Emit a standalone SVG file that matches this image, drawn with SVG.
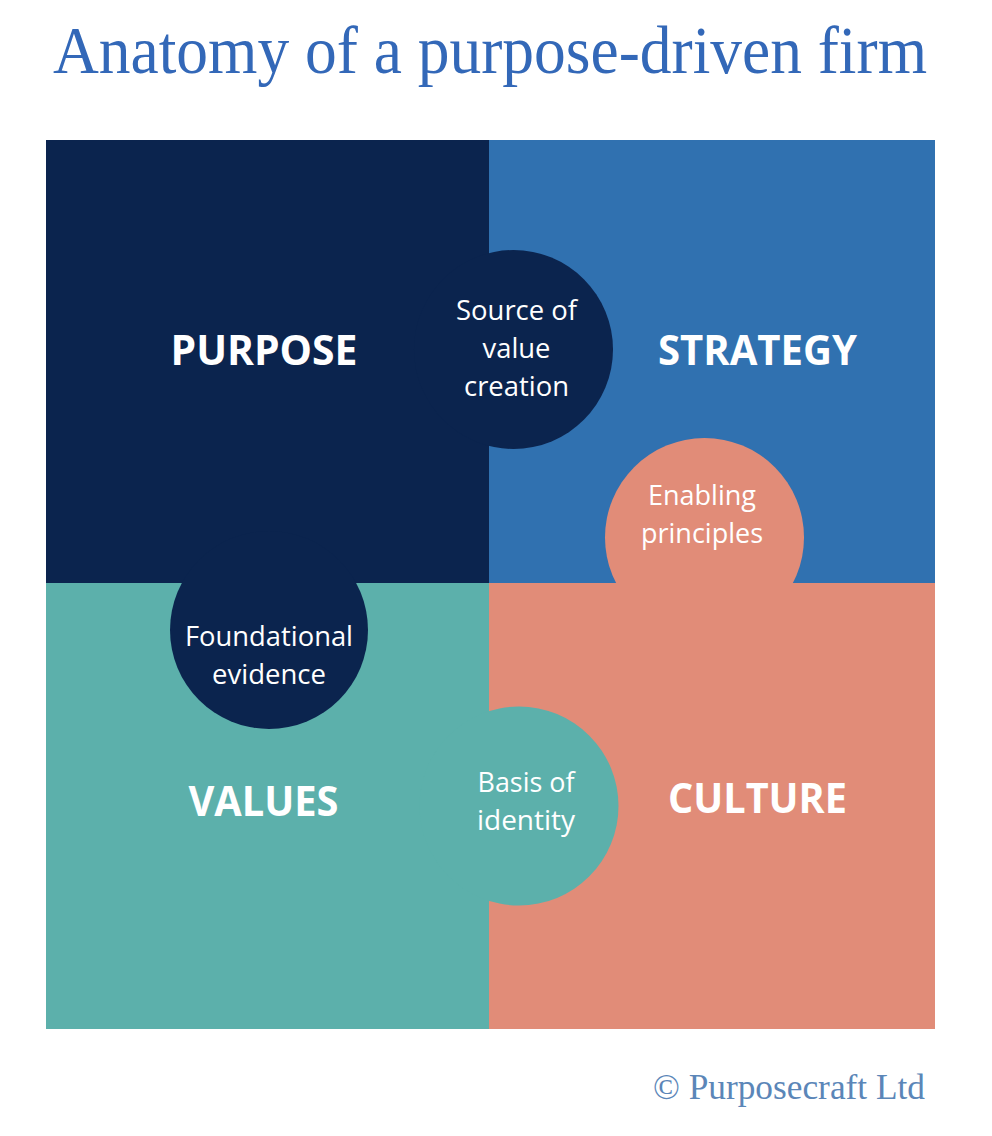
<svg xmlns="http://www.w3.org/2000/svg" width="992" height="1136" viewBox="0 0 992 1136">
<style>
.h{font-family:"Open Sans","Noto Sans",sans-serif;font-weight:700;font-size:42px;fill:#fff;text-anchor:middle}
.l{font-family:"Open Sans","Noto Sans",sans-serif;font-size:27.500px;fill:#fff;text-anchor:middle}
.s{font-family:"Liberation Serif",serif}
</style>
<rect width="992" height="1136" fill="#fff"/>
<text id="title" class="s" x="53" y="73" font-size="68" fill="#3368b8" textLength="874" lengthAdjust="spacingAndGlyphs">Anatomy of a purpose-driven firm</text>
<g id="strategy"><rect x="489" y="140" width="446" height="443" fill="#3071b0"/><text class="h" x="757.500" y="365" textLength="199" lengthAdjust="spacingAndGlyphs">STRATEGY</text></g>
<g id="enabling"><circle cx="704.500" cy="537.500" r="99.500" fill="#e18c78"/></g>
<g id="culture"><rect x="489" y="583" width="446" height="446" fill="#e18c78"/><text class="h" x="757.500" y="813" textLength="179" lengthAdjust="spacingAndGlyphs">CULTURE</text></g>
<g id="purpose"><rect x="46" y="140" width="443" height="443" fill="#0b244e"/><text class="h" x="264" y="365" textLength="187" lengthAdjust="spacingAndGlyphs">PURPOSE</text></g>
<g id="source"><circle cx="513.500" cy="349.500" r="99.500" fill="#0b244e"/></g>
<g id="values"><rect x="46" y="583" width="443" height="446" fill="#5cb0ab"/><text class="h" x="263.500" y="816" textLength="150" lengthAdjust="spacingAndGlyphs">VALUES</text></g>
<g id="foundational"><circle cx="269" cy="630" r="99" fill="#0b244e"/></g>
<g id="basis"><circle cx="519" cy="806" r="99.500" fill="#5cb0ab"/></g>
<g id="labels">
<text class="l" x="516.500" y="320" textLength="121" lengthAdjust="spacingAndGlyphs">Source of</text>
<text class="l" x="516.500" y="358" textLength="68" lengthAdjust="spacingAndGlyphs">value</text>
<text class="l" x="516.500" y="396" textLength="105" lengthAdjust="spacingAndGlyphs">creation</text>
<text class="l" x="702" y="505" textLength="108" lengthAdjust="spacingAndGlyphs">Enabling</text>
<text class="l" x="702" y="543" textLength="122" lengthAdjust="spacingAndGlyphs">principles</text>
<text class="l" x="269" y="646" textLength="168" lengthAdjust="spacingAndGlyphs">Foundational</text>
<text class="l" x="269" y="684" textLength="114" lengthAdjust="spacingAndGlyphs">evidence</text>
<text class="l" x="526" y="792" textLength="97" lengthAdjust="spacingAndGlyphs">Basis of</text>
<text class="l" x="526" y="830" textLength="98" lengthAdjust="spacingAndGlyphs">identity</text>
</g>
<text id="copyright" class="s" x="653" y="1099" font-size="35" fill="#5b86b8" textLength="272" lengthAdjust="spacingAndGlyphs">© Purposecraft Ltd</text>
</svg>
